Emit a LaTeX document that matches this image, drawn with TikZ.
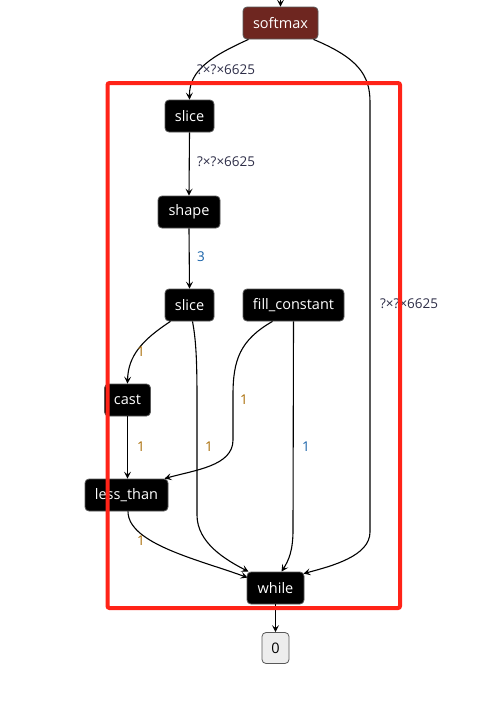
\documentclass[tikz,border=0pt]{standalone}
\usepackage{fontspec}
\setmainfont{Open Sans}
\usetikzlibrary{arrows.meta,calc}
\definecolor{redbox}{HTML}{FF2318}
\definecolor{smx}{HTML}{6E2620}
\definecolor{lblorange}{HTML}{A86A00}
\definecolor{lblblue}{HTML}{1560A8}
\definecolor{lbldark}{HTML}{2E2E48}
\begin{document}
\begin{tikzpicture}[x=1pt,y=-1pt,
  op/.style={draw=black!65, line width=0.8pt, fill=black, text=white, rounded corners=4pt,
    minimum height=32pt, inner sep=0pt, font=\fontsize{14.5}{16}\selectfont},
  val/.style={draw=black!65, line width=0.8pt, fill=black!7, text=black, rounded corners=4pt,
    minimum height=31pt, minimum width=27pt, inner sep=0pt, font=\fontsize{14.5}{16}\selectfont},
  conn/.style={line width=1.1pt, -{Stealth[length=7pt,width=7pt,inset=3pt]}},
  lbl/.style={anchor=west, inner sep=0pt, font=\fontsize{13.5}{15}\selectfont},
]
\useasboundingbox (0,0) rectangle (484,705);
\fill[white] (0,0) rectangle (484,705);

\node[op, fill=smx, minimum width=75pt] (softmax) at (280.5,23) {softmax};
\node[op, minimum width=49pt] (slice1) at (189.5,116) {slice};
\node[op, minimum width=62pt] (shape) at (189,212) {shape};
\node[op, minimum width=49pt] (slice2) at (189.5,305) {slice};
\node[op, minimum width=101pt] (fill) at (293.5,305) {fill\_constant};
\node[op, minimum width=46pt] (cast) at (127.5,400) {cast};
\node[op, minimum width=83pt] (less) at (126.5,495) {less\_than};
\node[op, minimum width=57pt] (while) at (275.5,588) {while};
\node[val] (zero) at (275.5,648) {0};

\coordinate (top) at (280.5,0);

\draw[conn] (top) -- (softmax.north);
\draw[conn] ([xshift=-32pt]softmax.south) .. controls (212,56) and (189,70) .. (slice1.north);
\draw[conn] ([xshift=33pt]softmax.south) .. controls (358,58) and (370,75) .. (370,102)
   -- (370,532) .. controls (370,556) and (332,566) .. ([xshift=28pt,yshift=-2pt]while.north);
\draw[conn] (slice1.south) -- (shape.north);
\draw[conn] (shape.south) -- (slice2.north);
\draw[conn] ([xshift=-19pt]slice2.south) .. controls (142,340) and (128,356) .. (cast.north);
\draw[conn] ([xshift=3pt]slice2.south) .. controls (196,340) and (197,360) .. (197,400)
   -- (197,515) .. controls (197,543) and (226,560) .. ([xshift=-27pt]while.north);
\draw[conn] ([xshift=-21pt]fill.south) .. controls (240,340) and (233,360) .. (233,395)
   -- (233,440) .. controls (233,466) and (195,470) .. ([xshift=38pt]less.north);
\draw[conn] ([xshift=0pt]fill.south) -- (293,530) .. controls (293,550) and (289,560) .. ([xshift=6pt]while.north);
\draw[conn] (cast.south) -- ([xshift=1pt]less.north);
\draw[conn] ([xshift=1.5pt]less.south) .. controls (128,544) and (200,560) .. ([xshift=-28pt,yshift=-6pt]while.north);
\draw[conn] (while.south) -- (zero.north);

\node[lbl, text=lbldark] (l1) at (197,70) {?×?×6625};
\node[lbl, text=lbldark] (l2) at (197,162) {?×?×6625};
\node[lbl, text=lbldark] (l3) at (380,304) {?×?×6625};
\node[lbl, text=lblblue] (l4) at (197,257) {3};
\node[lbl, text=lblorange] (l5) at (137,352) {1};
\node[lbl, text=lblorange] (l6) at (240,400) {1};
\node[lbl, text=lblorange] (l7) at (137,447) {1};
\node[lbl, text=lblorange] (l8) at (205,447) {1};
\node[lbl, text=lblblue] (l9) at (302,447) {1};
\node[lbl, text=lblorange] (l10) at (137,541) {1};

\draw[redbox, line width=4pt, rounded corners=2pt] (107.5,83) rectangle (400,608);
\end{tikzpicture}
\end{document}
